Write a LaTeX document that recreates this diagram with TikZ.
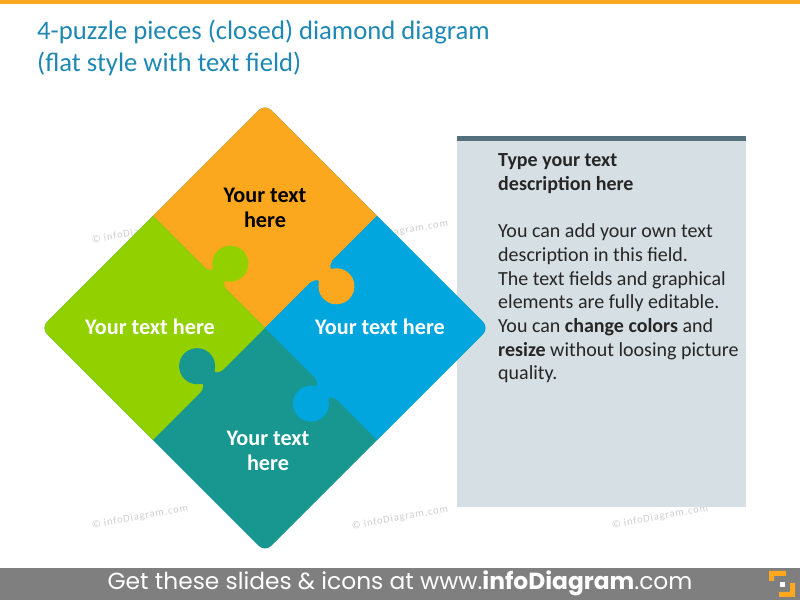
\documentclass[tikz,border=0pt]{standalone}
\usepackage{fontspec}
\setmainfont{Carlito}
\newfontfamily\footerfont{Poppins}
\newfontfamily\wmfont[LetterSpace=8]{Carlito}
\definecolor{pzorange}{RGB}{251,168,30}
\definecolor{pzgreen}{RGB}{146,208,0}
\definecolor{pzblue}{RGB}{2,166,222}
\definecolor{pzteal}{RGB}{24,150,144}
\definecolor{titleblue}{RGB}{30,135,180}
\definecolor{boxfill}{RGB}{214,223,227}
\definecolor{boxbar}{RGB}{84,112,125}
\definecolor{footergray}{RGB}{127,127,127}
\definecolor{wmgray}{RGB}{205,205,205}
\tikzset{
  piecelabel/.style={font=\fontsize{20}{22.5}\selectfont\bfseries, align=center, text=white},
  watermark/.style={text=wmgray, font=\wmfont\fontsize{9.5}{11}\selectfont, rotate=10},
  boxtext/.style={font=\fontsize{18}{21.3}\selectfont, align=left, text=black!85, inner sep=0pt},
}
\newcommand\pzknob{(-15,-3) -- (-15,0) .. controls (-11,1) and (-6.57,3.88) .. (-9.54,5.74)
  arc[start angle=238, end angle=-58, radius=18] .. controls (6.57,3.88) and (11,1) .. (15,0) -- (15,-3) -- cycle}
\begin{document}
\begin{tikzpicture}[x=0.9pt,y=0.9pt]
  \useasboundingbox (0,0) rectangle (800,600);
  \fill[pzorange] (0,596) rectangle (800,600);
  \node[anchor=base west, align=left, inner sep=0pt, text=titleblue, font=\fontsize{24}{28.8}\selectfont] (title) at (37,528)
    {4-puzzle pieces (closed) diamond diagram\\(flat style with text field)};
  \node[watermark] (wm1) at (140,368) {© infoDiagram.com};
  \node[watermark] (wm2) at (400,368) {© infoDiagram.com};
  \node[watermark] (wm3) at (140,83) {© infoDiagram.com};
  \node[watermark] (wm4) at (400,82) {© infoDiagram.com};
  \node[watermark] (wm5) at (660,83) {© infoDiagram.com};
  \fill[boxfill] (457,93) rectangle (746,459);
  \fill[boxbar] (457,459) rectangle (746,464);
  \begin{scope}[shift={(265,272)}, rotate=45]
    \clip[rounded corners=8pt] (-158.5,-158.5) rectangle (158.5,158.5);
    \fill[pzteal] (-160,-160) rectangle (160,160);
    \fill[pzorange] (0,0) rectangle (160,160);
    \fill[pzgreen] (-160,0) rectangle (0,160);
    \fill[pzblue] (0,-160) rectangle (160,0);
    \fill[pzgreen, shift={(0,70)}, rotate=-90] \pzknob;
    \fill[pzorange, shift={(80,0)}, rotate=180] \pzknob;
    \fill[pzteal, shift={(-75,0)}] \pzknob;
    \fill[pzblue, shift={(0,-86)}, rotate=90] \pzknob;
  \end{scope}
  \node[piecelabel, text=black] (toplabel) at (265,392.5) {Your text\\here};
  \node[piecelabel] (leftlabel) at (150,273) {Your text here};
  \node[piecelabel] (rightlabel) at (380,273) {Your text here};
  \node[piecelabel] (bottomlabel) at (268,149) {Your text\\here};
  \node[boxtext, anchor=base west] (desc) at (498,220)
    {\textbf{Type your text}\\\textbf{description here}\\[21.3pt]
     You can add your own text\\description in this field.\\The text fields and graphical\\elements are fully editable.\\
     You can \textbf{change colors} and\\\textbf{resize} without loosing picture\\quality.};
  \fill[footergray] (0,0) rectangle (800,32);
  \node[anchor=base, text=white, font=\footerfont\fontsize{21}{23}\selectfont] (footer) at (400,10)
    {Get these slides \& icons at www.\textbf{infoDiagram}.com};
  \fill[pzorange] (769,29) -- (786,29) -- (786,24) -- (774,24) -- (774,19) -- (769,19) -- cycle;
  \fill[pzorange] (795,17) -- (795,3) -- (779,3) -- (779,8) -- (790,8) -- (790,17) -- cycle;
  \fill[white] (780,13) rectangle (785,18);
\end{tikzpicture}
\end{document}
